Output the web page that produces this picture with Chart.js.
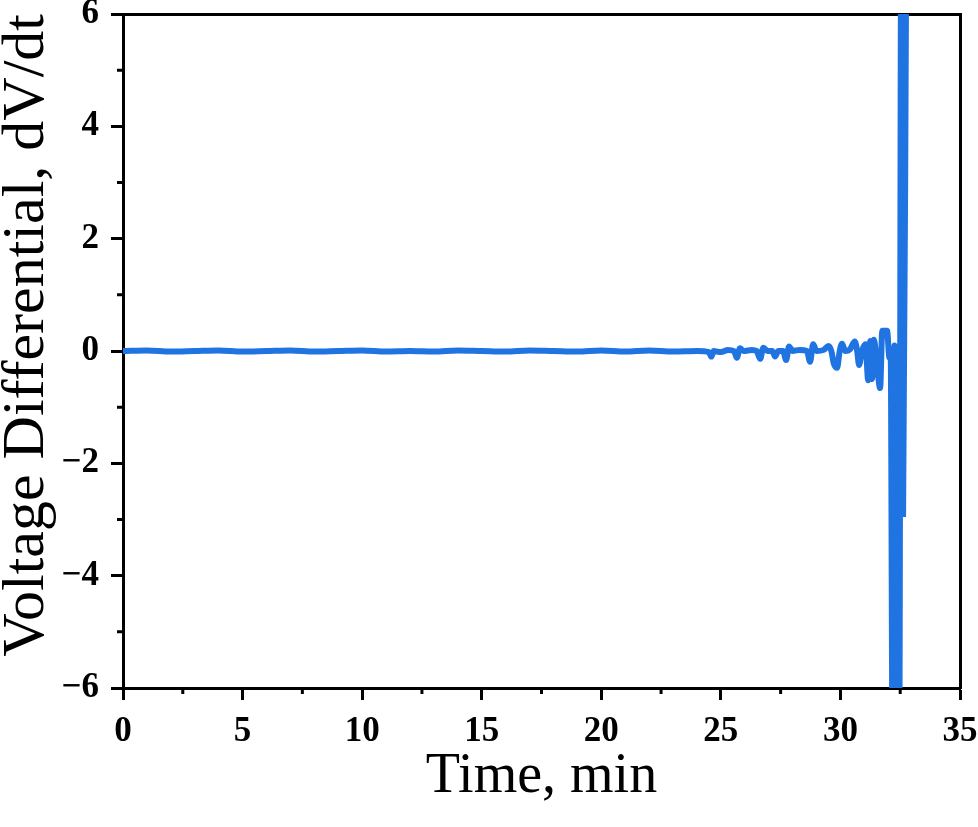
<!DOCTYPE html>
<html lang="en">
<head>
    <meta charset="UTF-8">
    <title>Voltage Differential</title>
    <script src="https://cdn.jsdelivr.net/npm/chart.js@4.4.1/dist/chart.umd.min.js"></script>
    <style>
        body { margin: 0; background: #fff; }
        canvas { display: block; }
    </style>
</head>
<body>
    <canvas id="dvdtChart" width="978" height="827"></canvas>

    <script>
        // time in minutes, dV/dt
        const time = [0, 1, 2, 3, 4, 5, 6, 7, 8, 9, 10, 11, 12, 13, 14, 15, 16, 17, 18, 19, 20, 21, 22, 23, 24,
            24.5, 24.6, 24.7, 25.0, 25.3, 25.55, 25.67, 25.8, 25.95, 26.3, 26.5, 26.64, 26.78, 26.95,
            27.15, 27.27, 27.4, 27.6, 27.73, 27.85, 28.0, 28.3, 28.6, 28.73, 28.86, 29.0, 29.3, 29.5, 29.62,
            29.72, 29.86, 29.97, 30.07, 30.2, 30.4, 30.6, 30.7, 30.78, 30.9, 31.05, 31.16, 31.25, 31.32, 31.4,
            31.5, 31.66, 31.75, 31.95, 32.05, 32.1, 32.18, 32.26, 32.34, 32.4, 32.46, 32.54, 32.62, 32.75];
        const dvdt = [0, 0.01, -0.01, 0, 0.01, -0.01, 0, 0.01, -0.01, 0, 0.01, -0.01, 0, -0.01, 0.01, 0, -0.01, 0.01, 0, -0.01, 0.01, -0.01, 0.01, -0.01, 0,
            -0.02, -0.1, 0, -0.02, 0.02, 0, -0.12, 0.05, 0, 0.02, 0, -0.14, 0.06, 0,
            0, -0.1, 0, 0, -0.16, 0.08, 0, 0.02, 0, -0.19, 0.12, 0, 0.02, 0.09, 0,
            -0.22, -0.3, 0, 0.13, 0, 0.03, 0.17, 0, -0.25, 0, 0.12, -0.52, 0.18, -0.5, 0.2,
            -0.1, -0.66, 0.36, 0.36, -0.12, 0.02, -7, 0.1, -7, 0.05, -7, 7, -2.9, 7];

        const xTicks = [0, 5, 10, 15, 20, 25, 30, 35];
        const yTicks = [-6, -4, -2, 0, 2, 4, 6];

        const tickFont = { family: "'Liberation Serif', 'Times New Roman', serif", size: 35, weight: 'bold' };
        const serif = "'Liberation Serif', 'Times New Roman', serif";

        // small ticks half way between the labelled ones
        const minorTicks = {
            id: 'minorTicks',
            afterDraw(chart) {
                const ctx = chart.ctx;
                const { x, y } = chart.scales;
                ctx.save();
                ctx.strokeStyle = '#000';
                ctx.lineWidth = 3;
                ctx.beginPath();
                for (let i = 0; i < xTicks.length - 1; i++) {
                    const px = x.getPixelForValue((xTicks[i] + xTicks[i + 1]) / 2);
                    ctx.moveTo(px, y.bottom);
                    ctx.lineTo(px, y.bottom + 6);
                }
                for (let i = 0; i < yTicks.length - 1; i++) {
                    const py = y.getPixelForValue((yTicks[i] + yTicks[i + 1]) / 2);
                    ctx.moveTo(x.left, py);
                    ctx.lineTo(x.left - 6, py);
                }
                ctx.stroke();
                ctx.restore();
            }
        };

        const axisGrid = { drawOnChartArea: false, drawTicks: true, tickLength: 12, tickWidth: 3, tickColor: '#000' };
        const axisBorder = { display: true, color: '#000', width: 3 };

        const chart = new Chart("dvdtChart", {
            type: "line",
            data: {
                datasets: [{
                    label: 'dV/dt',
                    data: time.map((t, i) => ({ x: t, y: dvdt[i] })),
                    borderColor: 'rgb(32,116,226)',
                    borderWidth: 6,
                    pointRadius: 0,
                    cubicInterpolationMode: 'monotone',
                    clip: 0,
                }]
            },
            plugins: [minorTicks],
            options: {
                responsive: false,
                animation: false,
                layout: { padding: 0 },
                plugins: { legend: { display: false }, tooltip: { enabled: false } },
                scales: {
                    x: {
                        type: 'linear',
                        min: 0,
                        max: 35,
                        afterBuildTicks: (scale) => { scale.ticks = xTicks.map(v => ({ value: v })); },
                        afterFit: (scale) => {
                            scale.height = 139;
                            scale.paddingLeft = 0;
                            scale.paddingRight = 18;
                        },
                        ticks: { font: tickFont, color: '#000', padding: 11, maxRotation: 0 },
                        grid: axisGrid,
                        border: axisBorder,
                        title: { display: true, text: 'Time, min', font: { family: serif, size: 56 }, color: '#000', padding: { top: 0, bottom: 16 } },
                    },
                    x2: {
                        type: 'linear',
                        position: 'top',
                        min: 0,
                        max: 35,
                        afterFit: (scale) => { scale.height = 0; },
                        ticks: { display: false },
                        grid: { display: false, drawTicks: false },
                        border: axisBorder,
                    },
                    y: {
                        min: -6,
                        max: 6,
                        afterBuildTicks: (scale) => { scale.ticks = yTicks.map(v => ({ value: v })); },
                        afterFit: (scale) => {
                            scale.width = 123;
                            scale.paddingTop = 14;
                            scale.paddingBottom = 0;
                        },
                        ticks: {
                            font: tickFont,
                            color: '#000',
                            padding: 12,
                            callback: (v) => String(v).replace('-', '\u2212'),
                        },
                        grid: axisGrid,
                        border: axisBorder,
                        title: { display: true, text: 'Voltage Differential, dV/dt', align: 'end', font: { family: serif, size: 60 }, color: '#000', padding: { top: -9, bottom: 0 } },
                    },
                    y2: {
                        position: 'right',
                        min: -6,
                        max: 6,
                        afterFit: (scale) => { scale.width = 0; },
                        ticks: { display: false },
                        grid: { display: false, drawTicks: false },
                        border: axisBorder,
                    },
                },
            },
        });
    </script>
</body>
</html>
